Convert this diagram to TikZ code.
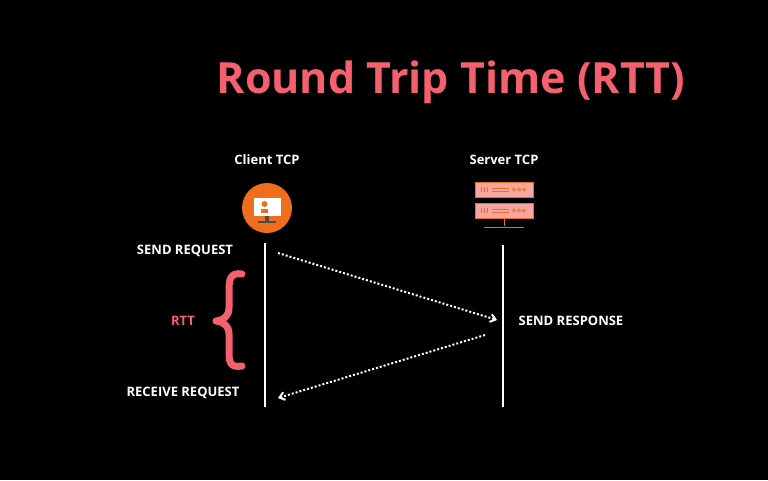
\documentclass[tikz,border=0pt]{standalone}
\usepackage{fontspec}
\setmainfont{Open Sans}
\usetikzlibrary{arrows.meta}
\definecolor{rttpink}{HTML}{F5606E}
\definecolor{iconorange}{HTML}{EE6E1E}
\definecolor{srvpink}{HTML}{F7A5A0}
\begin{document}
\begin{tikzpicture}[x=1pt,y=-1pt,
  lbl/.style={text=white,font=\bfseries\fontsize{13}{15}\selectfont},
  msg/.style={white,line width=2pt,dotted,-{Straight Barb[length=5pt,width=8pt]}},
  life/.style={white,line width=2.5pt}]
\fill[black] (0,0) rectangle (768,480);
\useasboundingbox (0,0) rectangle (768,480);
\node[text=rttpink,font=\bfseries\fontsize{43}{50}\selectfont] (title) at (451,82) {Round Trip Time (RTT)};
\node[lbl] (cl) at (267,160) {Client TCP};
\node[lbl] (sl) at (504,160) {Server TCP};
% client icon
\node[circle,fill=iconorange,minimum size=50pt,inner sep=0] (cicon) at (267,208) {};
\fill[white] (254,198) rectangle (281,216);
\fill[iconorange] (264.5,204) circle (3);
\fill[iconorange] (261,213) rectangle (268,209) ;
\fill[black!70] (265,216) rectangle (269,221);
\fill[black!70] (258,221) rectangle (276,223);
% server icon
\coordinate (sicon) at (504,203);
\foreach \y in {182,203}{
  \fill[srvpink,draw=iconorange,line width=0.8pt] (475,\y) rectangle (533,\y+15);
  \draw[iconorange,line width=0.8pt] (481,\y+5)--(481,\y+10) (484,\y+5)--(484,\y+10) (487,\y+5)--(487,\y+10);
  \draw[iconorange,line width=0.8pt] (492,\y+6)--(509,\y+6) (492,\y+9)--(509,\y+9);
  \foreach \x in {514,519,524} \draw[iconorange,line width=0.6pt] (\x,\y+7.5) circle (1.6);
}
\draw[iconorange,line width=1pt] (504,218)--(504,226) (484,227)--(524,227);
% lifelines
\coordinate (ct) at (265,243); \coordinate (cb) at (265,407);
\coordinate (st) at (503,245); \coordinate (sb) at (503,407);
\draw[life] (ct)--(cb);
\draw[life] (st)--(sb);
\coordinate (a1s) at (278,253); \coordinate (a1e) at (497,320);
\coordinate (a2s) at (485,335); \coordinate (a2e) at (278,398);
\draw[msg] (a1s)--(a1e);
\draw[msg] (a2s)--(a2e);
\node[lbl] (sr) at (185,251) {SEND REQUEST};
\node[lbl] (rr) at (183,393) {RECEIVE REQUEST};
\node[lbl] (sp) at (571,321) {SEND RESPONSE};
\node[text=rttpink,font=\bfseries\fontsize{13}{15}\selectfont] (rtt) at (183,321) {RTT};
\draw[rttpink,line width=7pt,line cap=round,line join=round]
  (242,274) .. controls (230,272) and (229,280) .. (229,290) -- (229,308)
  .. controls (229,316) and (224,320) .. (216,321)
  .. controls (224,322) and (229,326) .. (229,334) -- (229,352)
  .. controls (229,362) and (230,368) .. (242,366);
\end{tikzpicture}
\end{document}
